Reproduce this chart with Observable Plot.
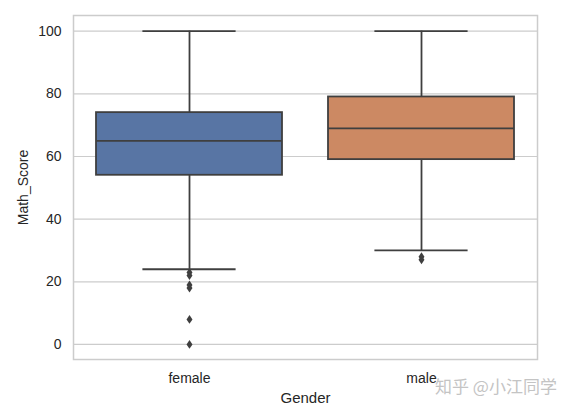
<!DOCTYPE html>
<html><head><meta charset="utf-8">
<script src="https://cdn.jsdelivr.net/npm/d3@7"></script>
<script src="https://cdn.jsdelivr.net/npm/@observablehq/plot@0.6"></script>
<style>
body{margin:0;background:#fff;}
#wrap{position:relative;width:575px;height:411px;overflow:hidden;}
#wm{position:absolute;left:435px;top:376px;font-family:"Noto Sans CJK SC",sans-serif;font-size:17px;color:#c4c4c4;white-space:nowrap;line-height:20px;}
</style>
</head><body><div id="wrap"></div>
<script>
const genders = ["female", "male"];
const q1 = [54, 59];
const medians = [65, 69];
const q3 = [74, 79];
const whiskerLow = [24, 30];
const whiskerHigh = [100, 100];
const femaleOutliers = [23, 22, 19, 18, 8, 0];
const maleOutliers = [28, 27];
const yTicks = [0, 20, 40, 60, 80, 100];
const fills = ["#5875a4", "#cc8963"];

const boxes = genders.map((g, i) => ({gender: g, q1: q1[i], med: medians[i], q3: q3[i], lo: whiskerLow[i], hi: whiskerHigh[i], fill: fills[i]}));
const outliers = [
  ...femaleOutliers.map(v => ({gender: "female", v})),
  ...maleOutliers.map(v => ({gender: "male", v}))
];

const thinDiamond = {
  draw(ctx, size) {
    const r = Math.sqrt(size / Math.PI);
    ctx.moveTo(0, -r * 1.25);
    ctx.lineTo(r * 0.85, 0);
    ctx.lineTo(0, r * 1.25);
    ctx.lineTo(-r * 0.85, 0);
    ctx.closePath();
  }
};

const lineColor = "#3f3f3f";
const lw = 1.8;

const plot = Plot.plot({
  width: 575, height: 411,
  marginLeft: 73, marginRight: 38, marginTop: 15, marginBottom: 52,
  style: {fontFamily: "'Liberation Sans', Arial, sans-serif", fontSize: "14px", color: "#262626", background: "white"},
  x: {domain: genders, paddingInner: 0.2, paddingOuter: 0.1, axis: null},
  y: {domain: [-4.8, 105], axis: null},
  marks: [
    Plot.gridY(yTicks, {stroke: "#cccccc", strokeOpacity: 1, strokeWidth: 1.2}),
    Plot.frame({stroke: "#cccccc", strokeWidth: 1.5}),
    Plot.ruleX(boxes, {x: "gender", y1: "lo", y2: "q1", stroke: lineColor, strokeWidth: lw}),
    Plot.ruleX(boxes, {x: "gender", y1: "q3", y2: "hi", stroke: lineColor, strokeWidth: lw}),
    Plot.tickY(boxes, {x: "gender", y: "lo", insetLeft: 46.4, insetRight: 46.4, stroke: lineColor, strokeWidth: lw}),
    Plot.tickY(boxes, {x: "gender", y: "hi", insetLeft: 46.4, insetRight: 46.4, stroke: lineColor, strokeWidth: lw}),
    Plot.barY(boxes, {x: "gender", y1: "q1", y2: "q3", fill: "fill", stroke: lineColor, strokeWidth: lw}),
    Plot.tickY(boxes, {x: "gender", y: "med", stroke: lineColor, strokeWidth: lw}),
    Plot.dot(outliers, {x: "gender", y: "v", symbol: thinDiamond, r: 3.5, fill: lineColor, stroke: "none"}),
    Plot.axisY(yTicks, {tickSize: 0, tickPadding: 12, label: null, fontSize: 14}),
    Plot.axisY([], {label: "Math_Score", labelAnchor: "center", labelOffset: 55, labelArrow: false, fontSize: 14}),
    Plot.axisX(genders, {tickSize: 0, tickPadding: 14, label: null, fontSize: 14}),
    Plot.axisX([], {label: "Gender", labelAnchor: "center", labelOffset: 43, labelArrow: false, fontSize: 15})
  ]
});
const wrap = document.getElementById("wrap");
wrap.appendChild(plot);
const wm = document.createElement("div");
wm.id = "wm";
wm.textContent = "知乎 @小江同学";
wrap.appendChild(wm);
</script>
</body></html>
